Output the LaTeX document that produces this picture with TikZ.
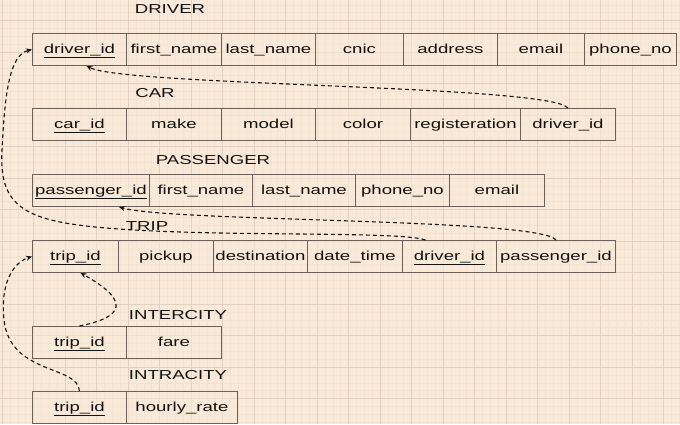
\documentclass[tikz,border=0pt]{standalone}
\usepackage{fontspec}
\setmainfont{Liberation Sans}[FakeStretch=1.43]
\usepackage{tikz}
\usetikzlibrary{arrows.meta}

\definecolor{paper}{RGB}{249,233,216}
\definecolor{gridmajor}{RGB}{226,209,194}
\definecolor{gridminor}{RGB}{242,226,210}
\definecolor{cellline}{RGB}{108,98,90}
\definecolor{ink}{RGB}{18,18,18}

\newcommand{\pk}[1]{\underline{#1}}

\tikzset{
  cell/.style={draw=cellline, line width=0.9pt, fill=paper, fill opacity=0.55,
    text opacity=1, text=ink, anchor=north west, minimum height=32pt,
    inner sep=0pt, text height=10.5pt, text depth=2.5pt,
    font=\fontsize{13}{15}\selectfont},
  title/.style={text=ink, inner sep=0pt, font=\fontsize{13}{15}\selectfont},
  fk/.style={draw=ink, line width=1.1pt, dash pattern=on 4pt off 3pt,
    -{Stealth[length=6pt,width=5pt]}}
}

\begin{document}
\begin{tikzpicture}[x=1pt,y=-1pt]
  \useasboundingbox (0,0) rectangle (680,424);
  % paper with grid
  \fill[paper] (0,0) rectangle (680,424);
  \foreach \i in {0,...,86} \draw[gridminor, line width=0.4pt] ({2+\i*7.875},0) -- ++(0,424);
  \foreach \i in {0,...,54} \draw[gridminor, line width=0.4pt] (0,{4.75+\i*7.875}) -- ++(680,0);
  \foreach \i in {0,...,21} \draw[gridmajor, line width=0.8pt] ({2+\i*31.5},0) -- ++(0,424);
  \foreach \i in {0,...,13} \draw[gridmajor, line width=0.8pt] (0,{20.5+\i*31.5}) -- ++(680,0);

  % DRIVER
  \node[title] (driver) at (170,9) {DRIVER};
  \foreach \n/\x/\w/\txt in {d-id/32/94/\pk{driver\_id}, d-first/126/95/first\_name,
      d-last/221/94/last\_name, d-cnic/315/88/cnic, d-addr/403/94/address,
      d-email/497/87/email, d-phone/584/92/phone\_no}
    \node[cell, minimum width=\w pt] (\n) at (\x,33) {\txt};

  % CAR
  \node[title] (car) at (155,93) {CAR};
  \foreach \n/\x/\w/\txt in {c-id/32/94/\pk{car\_id}, c-make/126/95/make,
      c-model/221/94/model, c-color/315/95/color, c-reg/410/110/registeration,
      c-driver/520/95/driver\_id}
    \node[cell, minimum width=\w pt] (\n) at (\x,108) {\txt};

  % PASSENGER
  \node[title] (passenger) at (213,160) {PASSENGER};
  \foreach \n/\x/\w/\txt in {p-id/32/117/\pk{passenger\_id}, p-first/149/103/first\_name,
      p-last/252/103/last\_name, p-phone/355/94/phone\_no, p-email/449/95/email}
    \node[cell, minimum width=\w pt] (\n) at (\x,174) {\txt};

  % TRIP
  \node[title] (trip) at (147,226) {TRIP};
  \foreach \n/\x/\w/\txt in {t-id/32/86/\pk{trip\_id}, t-pickup/118/95/pickup,
      t-dest/213/94/destination, t-date/307/95/date\_time, t-driver/402/94/\pk{driver\_id},
      t-pass/496/119/passenger\_id}
    \node[cell, minimum width=\w pt] (\n) at (\x,240) {\txt};

  % INTERCITY
  \node[title] (intercity) at (178,315) {INTERCITY};
  \foreach \n/\x/\w/\txt in {ic-id/32/94/\pk{trip\_id}, ic-fare/126/95/fare}
    \node[cell, minimum width=\w pt] (\n) at (\x,326) {\txt};

  % INTRACITY
  \node[title] (intracity) at (178,375) {INTRACITY};
  \foreach \n/\x/\w/\txt in {ia-id/32/94/\pk{trip\_id}, ia-rate/126/111/hourly\_rate}
    \node[cell, minimum width=\w pt] (\n) at (\x,391) {\txt};

  % foreign keys
  \draw[fk] (c-driver.north) .. controls (550,85) and (125,86) .. ([xshift=7pt]d-id.south);
  \draw[fk] ([xshift=-24pt]t-driver.north) .. controls (395,229) and (150,240) .. (60,222)
    .. controls (10,212) and (0,190) .. (2,150) .. controls (5,90) and (10,55) .. (d-id.west);
  \draw[fk] (t-pass.north) .. controls (540,218) and (170,222) .. ([xshift=28pt]p-id.south);
  \draw[fk] (ic-id.north) .. controls (135,315) and (120,295) .. ([xshift=5pt]t-id.south);
  \draw[fk] (ia-id.north) .. controls (78,365) and (10,375) .. (4,320)
    .. controls (0,280) and (15,262) .. (t-id.west);
\end{tikzpicture}
\end{document}
